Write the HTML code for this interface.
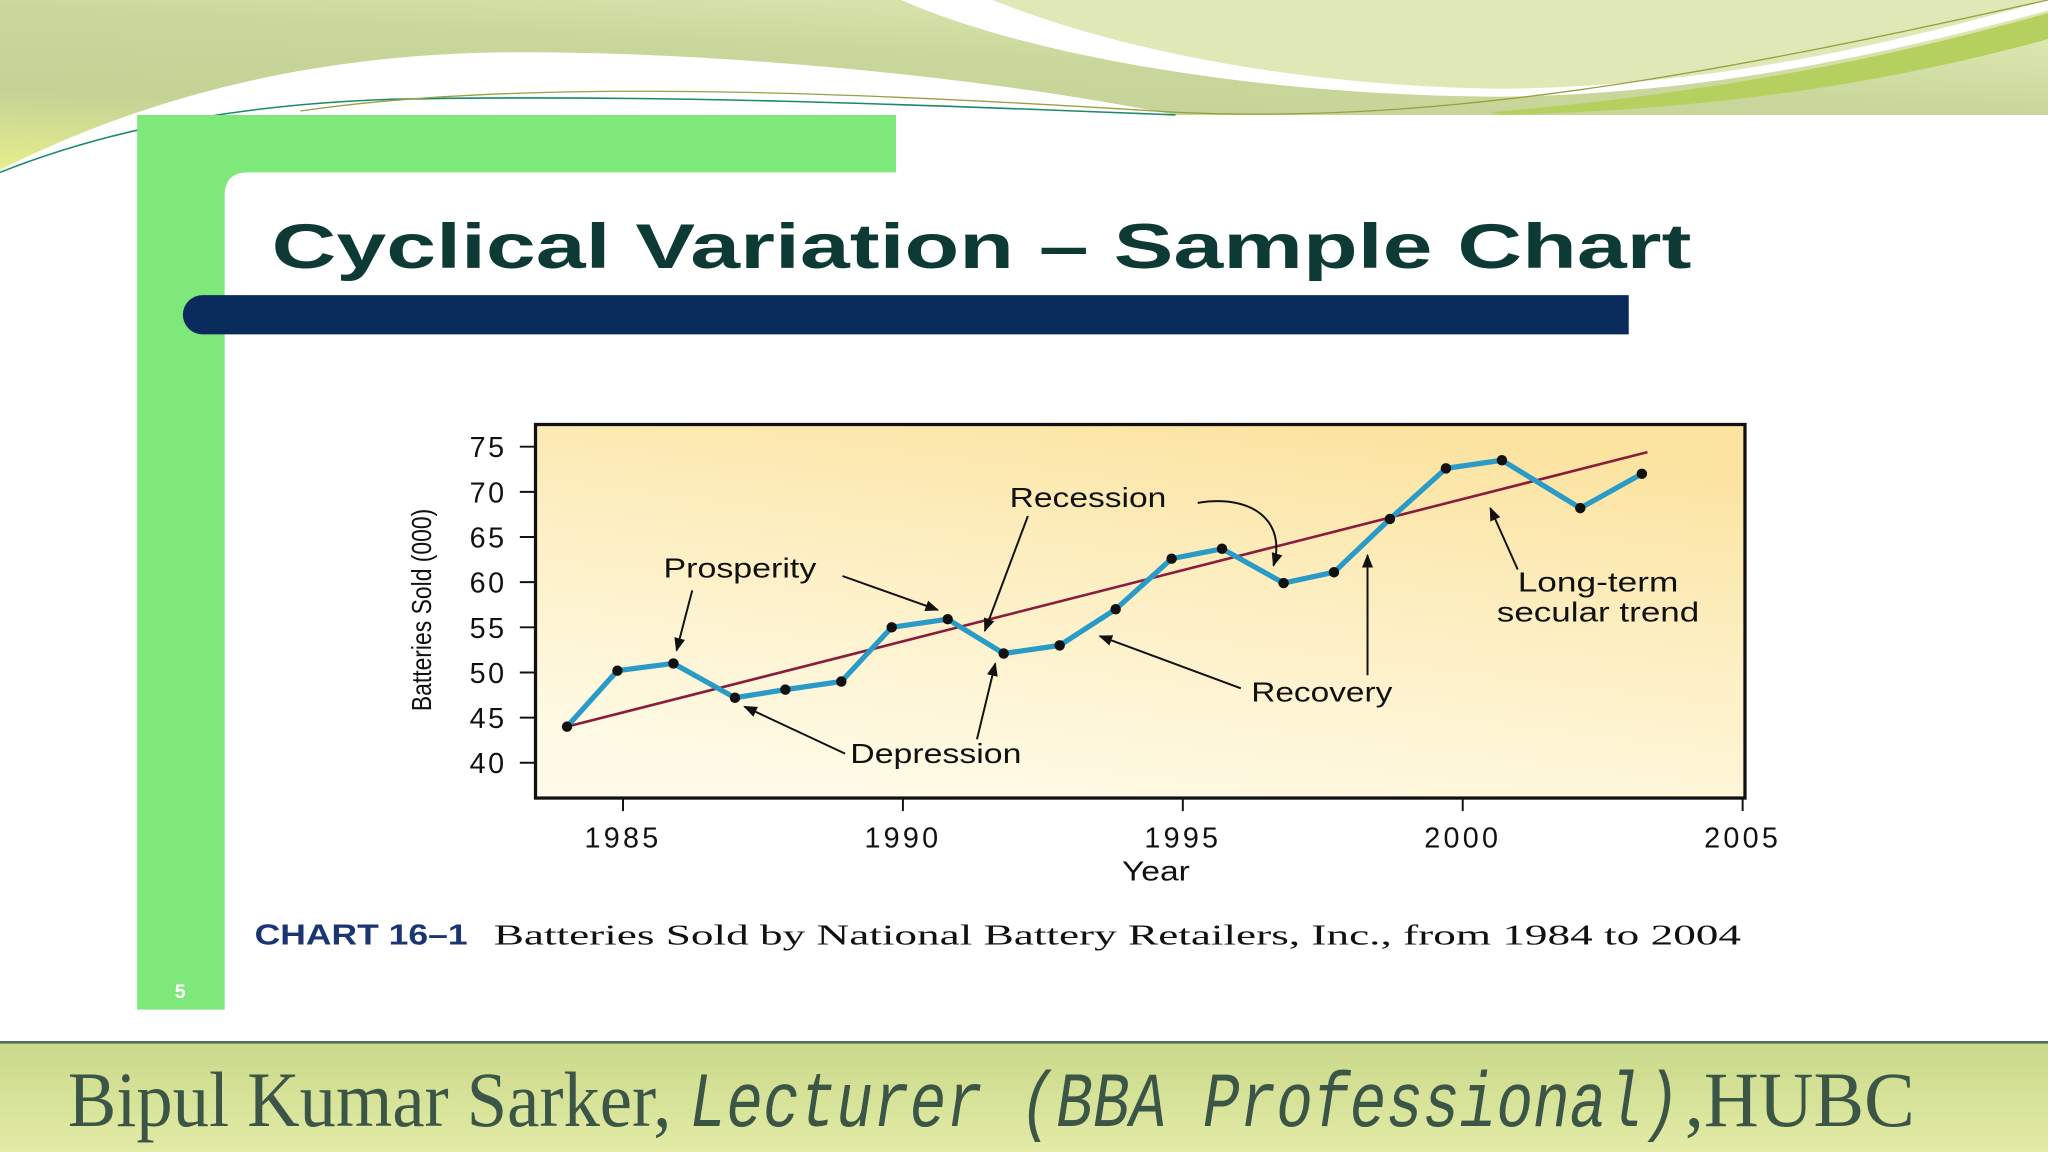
<!DOCTYPE html>
<html><head><meta charset="utf-8"><style>
html,body{margin:0;padding:0;background:#fff;}
svg{display:block;}
</style></head><body>
<svg id="s" width="2048" height="1152" viewBox="0 0 1568 882" xmlns="http://www.w3.org/2000/svg">
<defs>
<linearGradient id="topg" x1="0" y1="1" x2="0.6" y2="0"><stop offset="0" stop-color="#e6ee8c"/><stop offset="0.35" stop-color="#c4d296"/><stop offset="0.7" stop-color="#c9d79c"/><stop offset="1" stop-color="#dce7b0"/></linearGradient>
<linearGradient id="footg" x1="0" y1="0" x2="0" y2="1"><stop offset="0" stop-color="#c9d98a"/><stop offset="1" stop-color="#e3eba6"/></linearGradient>
<linearGradient id="plotg" x1="0.3" y1="1" x2="0.7" y2="0"><stop offset="0" stop-color="#fffbe8"/><stop offset="0.6" stop-color="#fdeec0"/><stop offset="1" stop-color="#fbe3a0"/></linearGradient>
<marker id="ah" viewBox="0 0 10 10" refX="9" refY="5" markerWidth="7" markerHeight="7" orient="auto-start-reverse"><path d="M0,1 L10,5 L0,9 z" fill="#111"/></marker>
</defs>
<g>
<path d="M0,0 L1568,0 L1568,88 L900,88 C760,60 560,40 400,40 C250,40 120,70 0,130 z" fill="url(#topg)"/>
<path d="M690,0 C780,40 950,72 1140,74 C1300,74 1450,40 1568,8 L1568,0 z" fill="#fff"/>
<path d="M760,0 C860,40 1000,66 1150,68 C1320,66 1460,30 1568,0 z" fill="#dfe8b6"/>
<path d="M1140,86 C1330,70 1460,40 1568,10 L1568,30 C1450,62 1320,84 1150,88 z" fill="#b6d060"/>
<path d="M0,132 C80,100 180,80 300,76 C500,72 700,80 900,88" fill="none" stroke="#1a8a6a" stroke-width="1.2"/>
<path d="M230,85 C400,60 650,70 900,86 C1100,95 1300,60 1568,0" fill="none" stroke="#9aa040" stroke-width="1"/>
</g>
<g>
<path d="M105,88 L686,88 L686,132 L190,132 Q172,132 172,150 L172,773 L105,773 z" fill="#7ee87a"/>
<text x="138" y="764" font-family="Liberation Sans, sans-serif" font-weight="bold" font-size="15" fill="#fff" text-anchor="middle">5</text>
</g>
<text x="208" y="205" font-family="Liberation Sans, sans-serif" font-weight="bold" font-size="48" fill="#0e3a36" textLength="1087" lengthAdjust="spacingAndGlyphs">Cyclical Variation – Sample Chart</text>
<path d="M155,226 L1247,226 L1247,256 L155,256 A15,15 0 0 1 155,226 z" fill="#0a2c5c"/>
<g id="chart">
<rect x="410" y="325" width="926" height="286" fill="url(#plotg)" stroke="#111" stroke-width="2.5"/>
</g>
<text transform="translate(330,467) rotate(-90)" font-family="Liberation Sans, sans-serif" font-size="21" fill="#111" text-anchor="middle" textLength="155" lengthAdjust="spacingAndGlyphs">Batteries Sold (000)</text>
<text x="859" y="674" font-family="Liberation Sans, sans-serif" font-size="21" fill="#111" textLength="52" lengthAdjust="spacingAndGlyphs">Year</text>
<g font-family="Liberation Sans, sans-serif" font-size="21" fill="#111">
<text x="508" y="442" textLength="117" lengthAdjust="spacingAndGlyphs">Prosperity</text>
<text x="773" y="388" textLength="120" lengthAdjust="spacingAndGlyphs">Recession</text>
<text x="651" y="584" textLength="131" lengthAdjust="spacingAndGlyphs">Depression</text>
<text x="958" y="537" textLength="108" lengthAdjust="spacingAndGlyphs">Recovery</text>
<text x="1162" y="453" textLength="123" lengthAdjust="spacingAndGlyphs">Long-term</text>
<text x="1146" y="476" textLength="155" lengthAdjust="spacingAndGlyphs">secular trend</text>
</g>
<g stroke="#111" stroke-width="1.5" fill="none" marker-end="url(#ah)">
<line x1="530" y1="452" x2="518" y2="498"/>
<line x1="645" y1="441" x2="718" y2="467"/>
<line x1="787" y1="395" x2="754" y2="483"/>
<path d="M917,385 C960,378 985,400 975,433"/>
<line x1="647" y1="577" x2="570" y2="541"/>
<line x1="748" y1="566" x2="762" y2="508"/>
<line x1="950" y1="527" x2="842" y2="487"/>
<line x1="1047" y1="517" x2="1047" y2="425"/>
<line x1="1162" y1="436" x2="1141" y2="389"/>
</g>
<text font-family="Liberation Serif, serif" font-size="22" fill="#111" y="723"><tspan x="195" font-family="Liberation Sans, sans-serif" font-weight="bold" fill="#1b3573" textLength="163" lengthAdjust="spacingAndGlyphs">CHART 16–1</tspan><tspan x="378" textLength="955" lengthAdjust="spacingAndGlyphs">Batteries Sold by National Battery Retailers, Inc., from 1984 to 2004</tspan></text>
<g>
<rect x="0" y="798" width="1568" height="84" fill="url(#footg)"/>
<rect x="0" y="797" width="1568" height="2" fill="#4f6e5e"/>
<text y="862" font-size="60" fill="#3b5646"><tspan x="52" font-family="Liberation Serif, serif" textLength="462" lengthAdjust="spacingAndGlyphs">Bipul Kumar Sarker,</tspan><tspan x="528" font-family="Liberation Mono, monospace" font-style="italic" textLength="758" lengthAdjust="spacingAndGlyphs">Lecturer (BBA Professional)</tspan><tspan x="1290" font-family="Liberation Serif, serif" textLength="176" lengthAdjust="spacingAndGlyphs">,HUBC</tspan></text>
</g>
</svg>
<script>
const years = [1984,1984.9,1985.9,1987,1987.9,1988.9,1989.8,1990.8,1991.8,1992.8,1993.8,1994.8,1995.7,1996.8,1997.7,1998.7,1999.7,2000.7,2002.1,2003.2];
const sales = [44,50.2,51,47.2,48.1,49,55,55.9,52.1,53,57,62.6,63.7,59.9,61.1,67,72.6,73.5,68.2,72];
const trendYears = [1984,2003.3];
const trendValues = [44,74.4];
const yTicks = [40,45,50,55,60,65,70,75];
const xTicks = [1985,1990,1995,2000,2005];
const NS='http://www.w3.org/2000/svg';
const sx = y => 477 + (y-1985)*42.86;
const sy = v => 584 - (v-40)*6.914;
const g = document.getElementById('chart');
function mk(t,a){const e=document.createElementNS(NS,t);for(const k in a)e.setAttribute(k,a[k]);g.appendChild(e);return e;}
yTicks.forEach(v=>{
  const l=mk('line',{x1:398,x2:410,y1:sy(v),y2:sy(v),stroke:'#111','stroke-width':1.5});
  
  
  const t=mk('text',{x:388,y:sy(v)+8,'text-anchor':'end','font-family':'Liberation Sans, sans-serif','font-size':22,'letter-spacing':2,fill:'#111'});
  t.textContent=v;
  
  
});
xTicks.forEach(v=>{
  const l=mk('line',{x1:sx(v),x2:sx(v),y1:611,y2:621,stroke:'#111','stroke-width':1.5});
  
  
  const t=mk('text',{x:sx(v),y:649,'text-anchor':'middle','font-family':'Liberation Sans, sans-serif','font-size':22,'letter-spacing':2.5,fill:'#111'});
  t.textContent=v;
  
  
});
const tr=mk('line',{x1:sx(trendYears[0]),y1:sy(trendValues[0]),x2:sx(trendYears[1]),y2:sy(trendValues[1]),stroke:'#8a1c3c','stroke-width':2});


const pts=years.map((y,i)=>sx(y)+','+sy(sales[i])).join(' ');
const pl=mk('polyline',{points:pts,fill:'none',stroke:'#2a9bc6','stroke-width':4,'stroke-linejoin':'round'});


years.forEach((y,i)=>{
  const c=mk('circle',{cx:sx(y),cy:sy(sales[i]),r:4,fill:'#111'});
  
  
});
</script>
</body></html>
